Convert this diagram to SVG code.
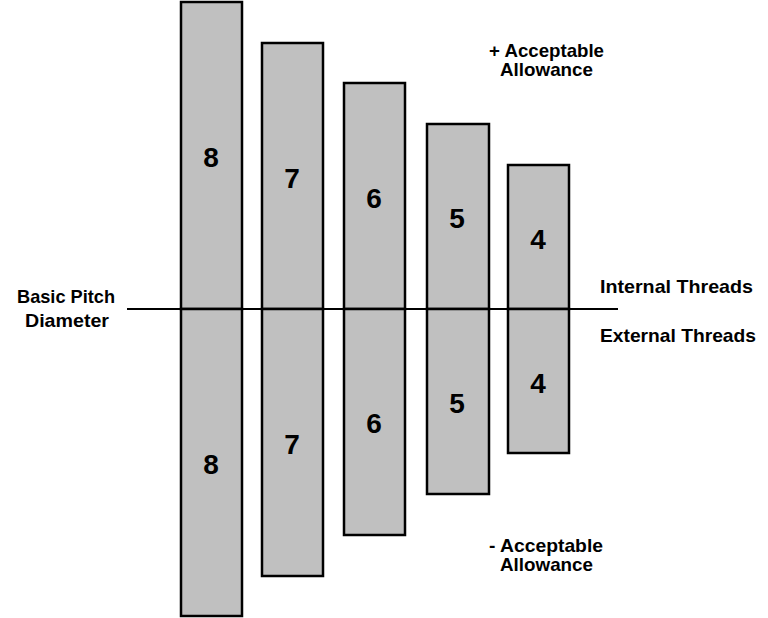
<svg xmlns="http://www.w3.org/2000/svg" width="768" height="618" viewBox="0 0 768 618">
<style>
.bar{fill:#c0c0c0;stroke:#000;stroke-width:2.5}
.num{font-family:"Liberation Sans",Arial,sans-serif;font-weight:bold;font-size:28px;text-anchor:middle;fill:#000}
.lbl{font-family:"Liberation Sans",Arial,sans-serif;font-weight:bold;font-size:19px;fill:#000}
</style>
<rect width="768" height="618" fill="#fff"/>
<g id="class8">
<rect class="bar" x="181" y="2" width="61" height="307"/>
<rect class="bar" x="181" y="309" width="61" height="307"/>
<text class="num" x="211" y="167">8</text>
<text class="num" x="211" y="474">8</text>
</g>
<g id="class7">
<rect class="bar" x="262" y="43" width="61" height="266"/>
<rect class="bar" x="262" y="309" width="61" height="267"/>
<text class="num" x="292" y="188">7</text>
<text class="num" x="292" y="454">7</text>
</g>
<g id="class6">
<rect class="bar" x="344" y="83" width="61" height="226"/>
<rect class="bar" x="344" y="309" width="61" height="226"/>
<text class="num" x="374" y="208">6</text>
<text class="num" x="374" y="433">6</text>
</g>
<g id="class5">
<rect class="bar" x="427" y="124" width="62" height="185"/>
<rect class="bar" x="427" y="309" width="62" height="185"/>
<text class="num" x="457" y="228">5</text>
<text class="num" x="457" y="413">5</text>
</g>
<g id="class4">
<rect class="bar" x="508" y="165" width="61" height="144"/>
<rect class="bar" x="508" y="309" width="61" height="144"/>
<text class="num" x="538" y="249">4</text>
<text class="num" x="538" y="393">4</text>
</g>
<g id="connectors">
<line x1="127" y1="309" x2="618" y2="309" stroke="#000" stroke-width="2"/>
</g>
<g id="labels">
<text class="lbl" x="17" y="303" textLength="98" lengthAdjust="spacingAndGlyphs">Basic Pitch</text>
<text class="lbl" x="25" y="327" textLength="84" lengthAdjust="spacingAndGlyphs">Diameter</text>
<text class="lbl" x="600" y="293" textLength="153" lengthAdjust="spacingAndGlyphs">Internal Threads</text>
<text class="lbl" x="600" y="342" textLength="156" lengthAdjust="spacingAndGlyphs">External Threads</text>
<text class="lbl" x="489" y="57" textLength="115" lengthAdjust="spacingAndGlyphs">+ Acceptable</text>
<text class="lbl" x="500" y="76" textLength="93" lengthAdjust="spacingAndGlyphs">Allowance</text>
<text class="lbl" x="489" y="552" textLength="114" lengthAdjust="spacingAndGlyphs">- Acceptable</text>
<text class="lbl" x="500" y="571" textLength="93" lengthAdjust="spacingAndGlyphs">Allowance</text>
</g>
</svg>
